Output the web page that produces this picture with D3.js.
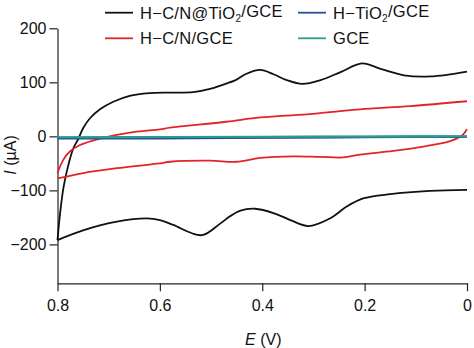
<!DOCTYPE html>
<meta charset="utf-8">
<head>
<style>
body { margin: 0; background: #fff; }
svg { font-family: "Liberation Sans", Arial, sans-serif; }
.axis path, .axis line { fill: none; stroke: #222; stroke-width: 1.2; }
.axis text { font-size: 16px; fill: #111; font-family: "Liberation Sans", Arial, sans-serif; }
.curve { fill: none; stroke-width: 1.8; }
</style>
</head>
<body>
<script src="https://cdn.jsdelivr.net/npm/d3@7"></script>
<script>

// H-C/N@TiO2/GCE, forward sweep 0.8 -> 0 V
var blackFwdE = [0.800, 0.795, 0.788, 0.778, 0.769, 0.759, 0.750, 0.737, 0.717, 0.691, 0.659, 0.620, 0.581, 0.535, 0.502, 0.479, 0.452, 0.433, 0.404, 0.378, 0.352, 0.322, 0.286, 0.247, 0.205, 0.169, 0.123, 0.071, 0.0];
var blackFwdI = [-192, -143, -93, -50, -22, -4, 15, 33, 50, 64, 75, 80, 81, 82, 88, 95, 104, 115, 123, 115, 104, 97, 104, 119, 135, 125, 113, 111, 120];
// reverse sweep 0 -> 0.8 V
var blackRevE = [0.0, 0.072, 0.150, 0.203, 0.235, 0.268, 0.310, 0.345, 0.375, 0.414, 0.444, 0.463, 0.483, 0.518, 0.574, 0.600, 0.626, 0.684, 0.750, 0.800];
var blackRevI = [-99, -101, -107, -115, -130, -152, -166, -155, -143, -134, -138, -148, -162, -183, -164, -155, -152, -158, -174, -192];

// H-C/N/GCE
var redFwdE = [0.800, 0.789, 0.776, 0.756, 0.717, 0.652, 0.600, 0.580, 0.470, 0.404, 0.307, 0.287, 0.209, 0.111, 0.0];
var redFwdI = [-68, -44, -28, -16, -4, 8, 13, 16, 27, 35, 41, 43, 50, 56, 65];
var redRevE = [0.0, 0.006, 0.014, 0.033, 0.079, 0.144, 0.209, 0.242, 0.287, 0.339, 0.404, 0.450, 0.502, 0.580, 0.600, 0.684, 0.750, 0.800];
var redRevI = [13, 5, -1, -9, -18, -27, -34, -39, -38, -37, -40, -47, -45, -47, -50, -59, -68, -78];

// H-TiO2/GCE
var blueFwdE = [0.8, 0.6, 0.4, 0.2, 0.0];
var blueFwdI = [-4, -4, -3, -2, -1];
var blueRevE = [0.0, 0.2, 0.4, 0.6, 0.8];
var blueRevI = [-0.5, -1.5, -2.5, -3, -3];

// GCE
var tealFwdE = [0.8, 0.6, 0.4, 0.2, 0.0];
var tealFwdI = [-1.5, -1, -0.5, 0, 0.5];
var tealRevE = [0.0, 0.2, 0.4, 0.6, 0.8];
var tealRevI = [0, -0.5, -1, -1.5, -2];

var yTicks = [-200, -100, 0, 100, 200];
var xTicks = [0.8, 0.6, 0.4, 0.2, 0];

var legendNames = ["H\u2212C/N@TiO2/GCE", "H\u2212TiO2/GCE", "H\u2212C/N/GCE", "GCE"];
var legendColors = ["#111111", "#2a4c9c", "#e1242b", "#2a9d8c"];

var width = 474, height = 348;

var svg = d3.select("body").append("svg")
    .attr("width", width)
    .attr("height", height);

var x = d3.scaleLinear().domain([0.8, 0]).range([57.5, 467]);
var y = d3.scaleLinear().domain([-272, 200]).range([283.3, 28.3]);

var xAxis = d3.axisBottom(x)
    .tickValues(xTicks)
    .tickSize(8)
    .tickSizeOuter(0)
    .tickPadding(8)
    .tickFormat(function(d) { return d === 0 ? "0" : d3.format(".1f")(d); });

var yAxis = d3.axisLeft(y)
    .tickValues(yTicks)
    .tickSize(8)
    .tickSizeOuter(0)
    .tickPadding(3);

svg.append("g")
    .attr("class", "x axis")
    .attr("transform", "translate(0," + y(-272) + ")")
    .call(xAxis);

svg.append("g")
    .attr("class", "y axis")
    .attr("transform", "translate(" + x(0.8) + ",0)")
    .call(yAxis);

// axis titles
var xt = svg.append("text")
    .attr("x", 263.3)
    .attr("y", 345)
    .attr("text-anchor", "middle")
    .style("font-size", "16px")
    .style("fill", "#111");
xt.append("tspan").style("font-style", "italic").text("E");
xt.append("tspan").text(" (V)");

var yt = svg.append("text")
    .attr("transform", "translate(15.5,155) rotate(-90)")
    .attr("text-anchor", "middle")
    .style("font-size", "16px")
    .style("fill", "#111");
yt.append("tspan").style("font-style", "italic").text("I");
yt.append("tspan").text(" (\u00b5A)");

var line = d3.line()
    .x(function(d) { return x(d[0]); })
    .y(function(d) { return y(d[1]); })
    .curve(d3.curveCatmullRom.alpha(0.5));

function branch(es, is, color, w) {
  svg.append("path")
      .datum(d3.zip(es, is))
      .attr("class", "curve")
      .attr("stroke", color)
      .attr("stroke-width", w)
      .attr("d", line);
}

branch(blackFwdE, blackFwdI, legendColors[0], 1.8);
branch(blackRevE, blackRevI, legendColors[0], 1.8);
branch(redFwdE, redFwdI, legendColors[2], 1.8);
branch(redRevE, redRevI, legendColors[2], 1.8);
branch(blueFwdE, blueFwdI, legendColors[1], 2.2);
branch(blueRevE, blueRevI, legendColors[1], 2.2);
branch(tealFwdE, tealFwdI, legendColors[3], 2);
branch(tealRevE, tealRevI, legendColors[3], 2);

// legend, two columns
var colX = [105, 298], rowY = [12.7, 38.3];
legendNames.forEach(function(name, i) {
  var lx = colX[i % 2], ly = rowY[Math.floor(i / 2)];
  svg.append("line")
      .attr("x1", lx).attr("x2", lx + 28)
      .attr("y1", ly).attr("y2", ly)
      .attr("stroke", legendColors[i])
      .attr("stroke-width", 1.8);
  var t = svg.append("text")
      .attr("x", lx + 35)
      .attr("y", ly)
      .attr("dy", "0.36em")
      .style("font-size", "16.5px")
      .style("letter-spacing", "0.3px")
      .style("fill", "#111");
  var k = name.indexOf("TiO2");
  if (k < 0) {
    t.text(name);
  } else {
    t.append("tspan").text(name.slice(0, k + 3));
    t.append("tspan").attr("dy", "0.3em").style("font-size", "10px").text("2");
    t.append("tspan").attr("dy", "-0.3em").text(name.slice(k + 4));
  }
});

</script>
</body>
